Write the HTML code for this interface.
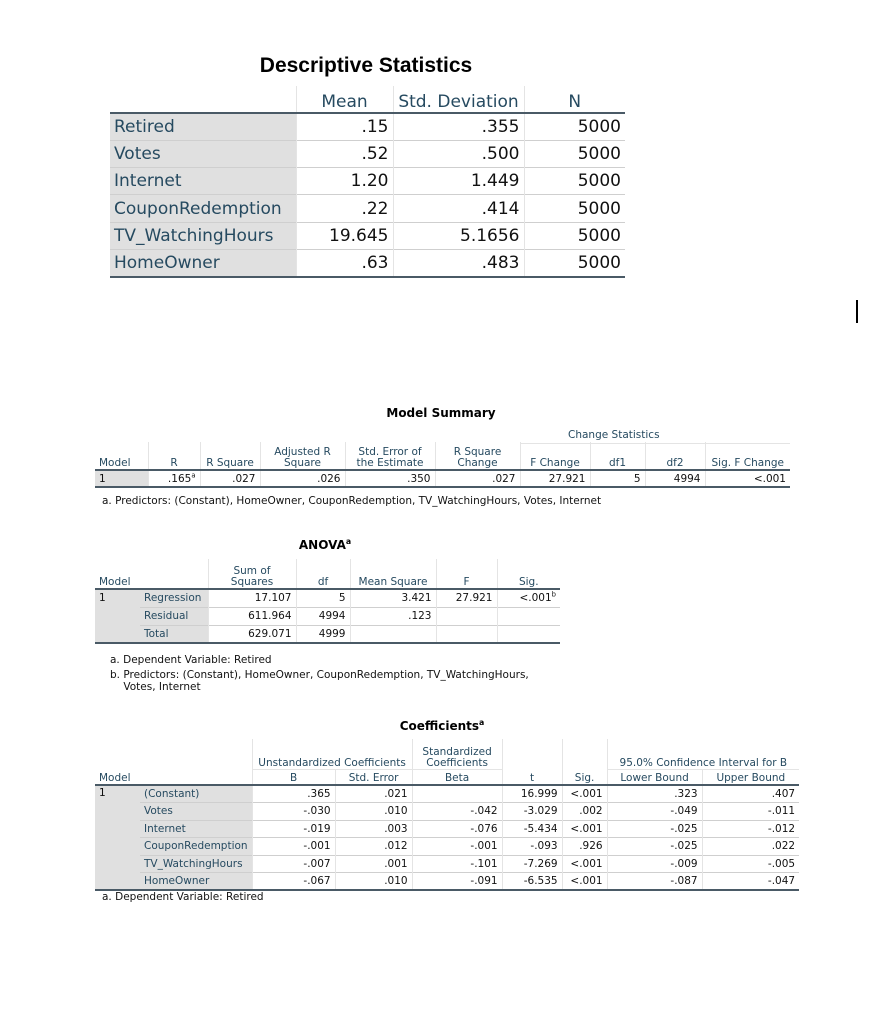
<!DOCTYPE html>
<html><head><meta charset="utf-8">
<style>
body{margin:0;width:890px;height:1024px;background:#fff;position:relative;font-family:"DejaVu Sans","Liberation Sans",sans-serif;overflow:hidden}
.t{position:absolute;font-weight:bold;color:#000;white-space:nowrap;transform:translateX(-50%)}
table{position:absolute;border-collapse:collapse;table-layout:fixed}
td{padding:0 4px;white-space:nowrap;overflow:visible}
.h td{color:#264a60;text-align:center;vertical-align:bottom;border-left:1px solid #e4e4e4}
.h td:first-child{border-left:none}
.lab{background:#e0e0e0;color:#264a60;text-align:left}
.v{text-align:right;color:#111;border-left:1px solid #e4e4e4;border-top:1px solid #cfcfcf}
.fn{position:absolute;color:#111;white-space:nowrap}
sup{font-size:65%;line-height:0}
</style></head><body>

<div class="t" style="left:366px;top:54px;font-size:21px;font-family:'Liberation Sans',sans-serif">Descriptive Statistics</div>
<table style="left:110px;top:86px;font-size:17px">
<colgroup><col style="width:186px"><col style="width:97px"><col style="width:131px"><col style="width:101px"></colgroup>
<tr class="h" style="height:27px"><td></td><td>Mean</td><td>Std. Deviation</td><td>N</td></tr>
<tbody style="border-top:2px solid #4a5a66;border-bottom:2px solid #4a5a66">
<tr style="height:27.3px"><td class="lab">Retired</td><td class="v">.15</td><td class="v">.355</td><td class="v">5000</td></tr>
<tr style="height:27.3px"><td class="lab" style="border-top:1px solid #cfcfcf">Votes</td><td class="v">.52</td><td class="v">.500</td><td class="v">5000</td></tr>
<tr style="height:27.3px"><td class="lab" style="border-top:1px solid #cfcfcf">Internet</td><td class="v">1.20</td><td class="v">1.449</td><td class="v">5000</td></tr>
<tr style="height:27.3px"><td class="lab" style="border-top:1px solid #cfcfcf">CouponRedemption</td><td class="v">.22</td><td class="v">.414</td><td class="v">5000</td></tr>
<tr style="height:27.3px"><td class="lab" style="border-top:1px solid #cfcfcf">TV_WatchingHours</td><td class="v">19.645</td><td class="v">5.1656</td><td class="v">5000</td></tr>
<tr style="height:27.3px"><td class="lab" style="border-top:1px solid #cfcfcf">HomeOwner</td><td class="v">.63</td><td class="v">.483</td><td class="v">5000</td></tr>
</tbody></table>

<div style="position:absolute;left:856px;top:300px;width:2px;height:23px;background:#000"></div>

<div class="t" style="left:441px;top:406px;font-size:12px">Model Summary</div>
<div class="fn" style="left:568px;top:429px;font-size:10.5px;color:#264a60">Change Statistics</div>
<div style="position:absolute;left:520px;top:443px;width:270px;border-top:1px solid #e4e4e4"></div>
<table style="left:95px;top:442px;font-size:10.5px">
<colgroup><col style="width:53px"><col style="width:52px"><col style="width:60px"><col style="width:85px"><col style="width:90px"><col style="width:85px"><col style="width:70px"><col style="width:55px"><col style="width:60px"><col style="width:85px"></colgroup>
<tr class="h" style="height:28px;line-height:11px"><td style="text-align:left">Model</td><td>R</td><td>R Square</td><td>Adjusted R<br>Square</td><td>Std. Error of<br>the Estimate</td><td>R Square<br>Change</td><td>F Change</td><td>df1</td><td>df2</td><td>Sig. F Change</td></tr>
<tbody style="border-top:2px solid #4a5a66;border-bottom:2px solid #4a5a66">
<tr style="height:17px"><td class="lab" style="color:#111">1</td><td class="v">.165<sup>a</sup></td><td class="v">.027</td><td class="v">.026</td><td class="v">.350</td><td class="v">.027</td><td class="v">27.921</td><td class="v">5</td><td class="v">4994</td><td class="v">&lt;.001</td></tr>
</tbody></table>
<div class="fn" style="left:102px;top:495px;font-size:10.5px">a. Predictors: (Constant), HomeOwner, CouponRedemption, TV_WatchingHours, Votes, Internet</div>

<div class="t" style="left:325px;top:538px;font-size:12px">ANOVA<sup>a</sup></div>
<table style="left:95px;top:559px;font-size:10.5px">
<colgroup><col style="width:45px"><col style="width:68px"><col style="width:88px"><col style="width:54px"><col style="width:86px"><col style="width:61px"><col style="width:63px"></colgroup>
<tr class="h" style="height:30px;line-height:11px"><td style="text-align:left">Model</td><td style="border-left:none"></td><td>Sum of<br>Squares</td><td>df</td><td>Mean Square</td><td>F</td><td>Sig.</td></tr>
<tbody style="border-top:2px solid #4a5a66;border-bottom:2px solid #4a5a66">
<tr style="height:18px"><td class="lab" rowspan="3" style="color:#111;vertical-align:top;padding-top:2px">1</td><td class="lab">Regression</td><td class="v">17.107</td><td class="v">5</td><td class="v">3.421</td><td class="v">27.921</td><td class="v">&lt;.001<sup>b</sup></td></tr>
<tr style="height:18px"><td class="lab" style="border-top:1px solid #cfcfcf">Residual</td><td class="v">611.964</td><td class="v">4994</td><td class="v">.123</td><td class="v"></td><td class="v"></td></tr>
<tr style="height:18px"><td class="lab" style="border-top:1px solid #cfcfcf">Total</td><td class="v">629.071</td><td class="v">4999</td><td class="v"></td><td class="v"></td><td class="v"></td></tr>
</tbody></table>
<div class="fn" style="left:110px;top:654px;font-size:10.5px">a. Dependent Variable: Retired</div>
<div class="fn" style="left:110px;top:669px;font-size:10.5px;line-height:12px">b. Predictors: (Constant), HomeOwner, CouponRedemption, TV_WatchingHours,<br>&nbsp;&nbsp;&nbsp;&nbsp;Votes, Internet</div>

<div class="t" style="left:442px;top:719px;font-size:12px">Coefficients<sup>a</sup></div>
<table style="left:95px;top:739px;font-size:10.5px">
<colgroup><col style="width:45px"><col style="width:110px"><col style="width:83px"><col style="width:77px"><col style="width:90px"><col style="width:60px"><col style="width:45px"><col style="width:95px"><col style="width:97px"></colgroup>
<tr class="h" style="height:30px;line-height:11px"><td></td><td style="border-left:none"></td><td colspan="2" style="border-bottom:1px solid #e4e4e4">Unstandardized Coefficients</td><td style="border-bottom:1px solid #e4e4e4">Standardized<br>Coefficients</td><td></td><td></td><td colspan="2" style="border-bottom:1px solid #e4e4e4">95.0% Confidence Interval for B</td></tr>
<tr class="h" style="height:16px"><td style="text-align:left;border-left:none">Model</td><td style="border-left:none"></td><td>B</td><td>Std. Error</td><td>Beta</td><td>t</td><td>Sig.</td><td>Lower Bound</td><td>Upper Bound</td></tr>
<tbody style="border-top:2px solid #4a5a66;border-bottom:2px solid #4a5a66">
<tr style="height:17.5px"><td class="lab" rowspan="6" style="color:#111;vertical-align:top;padding-top:1px">1</td><td class="lab">(Constant)</td><td class="v">.365</td><td class="v">.021</td><td class="v"></td><td class="v">16.999</td><td class="v">&lt;.001</td><td class="v">.323</td><td class="v">.407</td></tr>
<tr style="height:17.5px"><td class="lab" style="border-top:1px solid #cfcfcf">Votes</td><td class="v">-.030</td><td class="v">.010</td><td class="v">-.042</td><td class="v">-3.029</td><td class="v">.002</td><td class="v">-.049</td><td class="v">-.011</td></tr>
<tr style="height:17.5px"><td class="lab" style="border-top:1px solid #cfcfcf">Internet</td><td class="v">-.019</td><td class="v">.003</td><td class="v">-.076</td><td class="v">-5.434</td><td class="v">&lt;.001</td><td class="v">-.025</td><td class="v">-.012</td></tr>
<tr style="height:17.5px"><td class="lab" style="border-top:1px solid #cfcfcf">CouponRedemption</td><td class="v">-.001</td><td class="v">.012</td><td class="v">-.001</td><td class="v">-.093</td><td class="v">.926</td><td class="v">-.025</td><td class="v">.022</td></tr>
<tr style="height:17.5px"><td class="lab" style="border-top:1px solid #cfcfcf">TV_WatchingHours</td><td class="v">-.007</td><td class="v">.001</td><td class="v">-.101</td><td class="v">-7.269</td><td class="v">&lt;.001</td><td class="v">-.009</td><td class="v">-.005</td></tr>
<tr style="height:17.5px"><td class="lab" style="border-top:1px solid #cfcfcf">HomeOwner</td><td class="v">-.067</td><td class="v">.010</td><td class="v">-.091</td><td class="v">-6.535</td><td class="v">&lt;.001</td><td class="v">-.087</td><td class="v">-.047</td></tr>
</tbody></table>
<div class="fn" style="left:102px;top:891px;font-size:10.5px">a. Dependent Variable: Retired</div>

</body></html>
